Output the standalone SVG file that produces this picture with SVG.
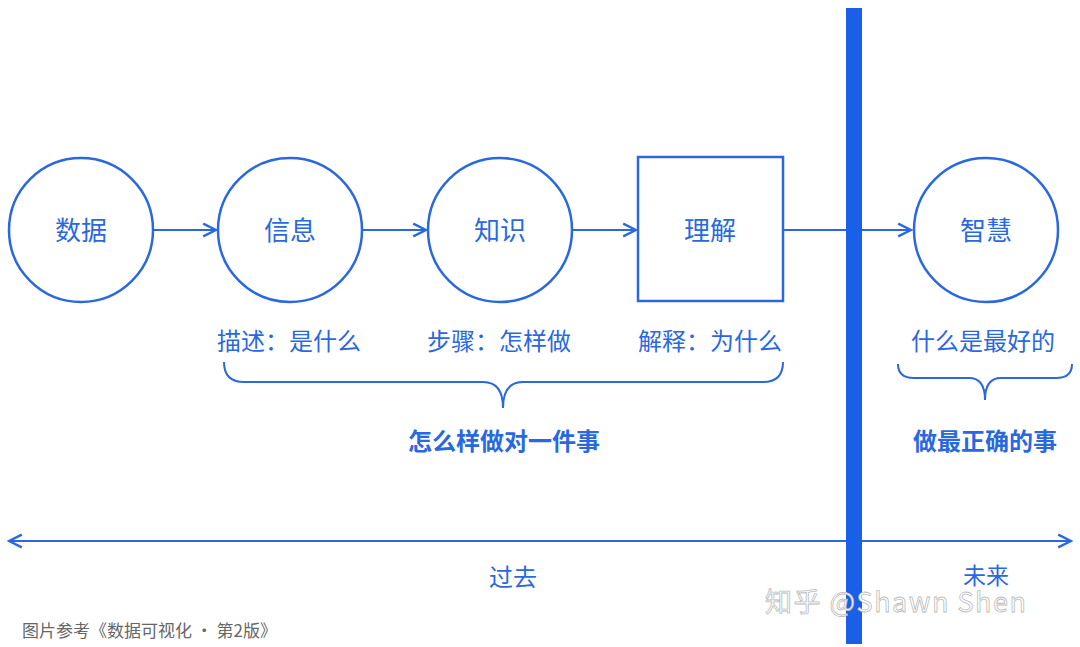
<svg xmlns="http://www.w3.org/2000/svg" width="1080" height="647" viewBox="0 0 1080 647">
<style>
.n{fill:#fff;stroke:#2a68e0;stroke-width:2.5}
.t{font-family:"Noto Sans CJK SC",sans-serif;fill:#2a68e0;text-anchor:middle}
.c{stroke:#2a68e0;stroke-width:2;fill:none}
</style>
<defs><marker id="a" viewBox="0 0 10 10" refX="9" refY="5" markerWidth="8" markerHeight="8" orient="auto-start-reverse"><path d="M1,1 L9,5 L1,9" fill="none" stroke="#2a68e0" stroke-width="1.5"/></marker></defs>
<rect width="1080" height="647" fill="#fff"/>
<g id="connectors">
<line class="c" x1="154" y1="230" x2="216" y2="230" marker-end="url(#a)"/>
<line class="c" x1="363" y1="230" x2="426" y2="230" marker-end="url(#a)"/>
<line class="c" x1="573" y1="230" x2="636" y2="230" marker-end="url(#a)"/>
<line class="c" x1="783" y1="230" x2="911" y2="230" marker-end="url(#a)"/>
<line class="c" x1="9" y1="541" x2="1071" y2="541" stroke-width="3" marker-start="url(#a)" marker-end="url(#a)"/>
<path class="c" stroke-width="3" d="M224,362 Q224,382 244,382 L483,382 Q503,382 503,408 Q503,382 523,382 L763,382 Q783,382 783,362"/>
<path class="c" stroke-width="3" d="M898,364 Q898,378 914,378 L969,378 Q985,378 985,400 Q985,378 1001,378 L1056,378 Q1072,378 1072,364"/>
</g>
<rect x="846" y="8" width="16" height="636" fill="#1a5fe8"/>
<g id="n1"><circle class="n" cx="81" cy="230" r="72"/><text class="t" x="81" y="240" font-size="26">数据</text></g>
<g id="n2"><circle class="n" cx="290" cy="230" r="72"/><text class="t" x="290" y="240" font-size="26">信息</text></g>
<g id="n3"><circle class="n" cx="500" cy="230" r="72"/><text class="t" x="500" y="240" font-size="26">知识</text></g>
<g id="n4"><rect class="n" x="638" y="157" width="145" height="144"/><text class="t" x="710" y="240" font-size="26">理解</text></g>
<g id="n5"><circle class="n" cx="986" cy="230" r="72"/><text class="t" x="986" y="240" font-size="26">智慧</text></g>
<g class="t" font-size="24">
<text x="289" y="350">描述：是什么</text>
<text x="499" y="350">步骤：怎样做</text>
<text x="710" y="350">解释：为什么</text>
<text x="983" y="350">什么是最好的</text>
<text x="504" y="450" font-weight="bold">怎么样做对一件事</text>
<text x="985" y="450" font-weight="bold">做最正确的事</text>
<text x="513" y="586">过去</text>
<text x="986" y="584" font-size="23">未来</text>
</g>
<text x="765" y="612" font-family="Noto Sans CJK SC,sans-serif" font-size="27" letter-spacing="1.5" fill="#fff" stroke="#bbb" stroke-width="0.8">知乎 @Shawn Shen</text>
<text x="22" y="637" font-family="Noto Sans CJK SC,sans-serif" font-size="17" fill="#666">图片参考《数据可视化 · 第2版》</text>
</svg>
